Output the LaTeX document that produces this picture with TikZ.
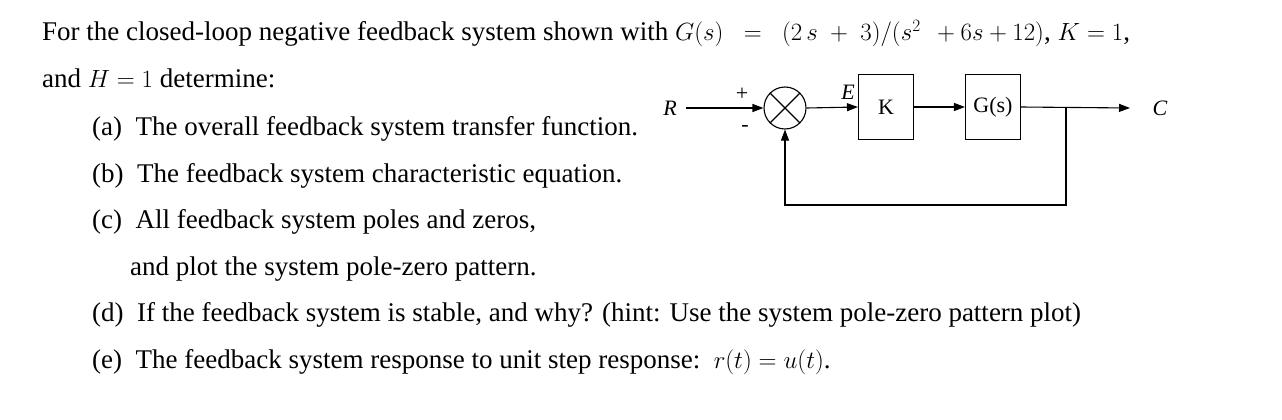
\documentclass[tikz,border=0pt]{standalone}
\usepackage{fontspec}
\setmainfont{Liberation Serif}
\usetikzlibrary{arrows.meta}
\begin{document}
\begin{tikzpicture}[x=1pt,y=-1pt,
  txt/.style={anchor=base west,inner sep=0pt,font=\fontsize{27}{30}\selectfont},
  blk/.style={draw,line width=1.1pt,minimum width=55pt,minimum height=65pt,font=\fontsize{22}{24}\selectfont},
  lbl/.style={font=\fontsize{22}{24}\selectfont\itshape},
  conn/.style={line width=1.1pt,-{Triangle[length=11pt,width=8pt]}}]
\useasboundingbox (0,0) rectangle (1282,420);
\node[txt] (l1) at (42,41) {For the closed-loop negative feedback system shown with $G(s)\ \ =\ \ (2\,s\ +\ 3)/(s^2\ \,+6s+12)$, $K=1$,};
\node[txt] (l2) at (42,88) {and $H=1$ determine:};
\node[txt] (la) at (92,135) {(a)\ \ The overall feedback system transfer function.};
\node[txt] (lb) at (92,182) {(b)\ \ The feedback system characteristic equation.};
\node[txt] (lc) at (92,228) {(c)\ \ All feedback system poles and zeros,};
\node[txt] (lc2) at (130,275) {and plot the system pole-zero pattern.};
\node[txt] (ld) at (92,321) {(d)\ \ If the feedback system is stable, and why? (hint: Use the system pole-zero pattern plot)};
\node[txt] (le) at (92,368) {(e)\ \ The feedback system response to unit step response:\ \ $r(t)=u(t)$.};
% diagram
\node[lbl] (R) at (670,108) {R};
\coordinate (Rs) at (686,108);
\node[draw,circle,line width=1.1pt,minimum size=42pt,inner sep=0pt] (S) at (785,108) {};
\draw[line width=1.1pt] (S.north east)--(S.south west) (S.north west)--(S.south east);
\node[blk] (K) at (886,107) {K};
\node[blk] (G) at (993,107) {G(s)};
\node[lbl] (C) at (1160,108) {C};
\coordinate (Ce) at (1130,108);
\coordinate (B) at (1066,108);
\coordinate (Bd) at (1066,205);
\node[lbl] (E) at (848,92) {E};
\node[font=\fontsize{22}{24}\selectfont] (plus) at (742,94) {+};
\node[font=\fontsize{22}{24}\selectfont] (minus) at (745,128) {-};
\draw[conn] (Rs)--(S.west);
\draw[conn] (S.east)--(K.west);
\draw[conn] (K.east)--(G.west);
\draw[conn] (G.east)--(Ce);
\draw[conn] (B)--(Bd)-|(S.south);
\end{tikzpicture}
\end{document}
